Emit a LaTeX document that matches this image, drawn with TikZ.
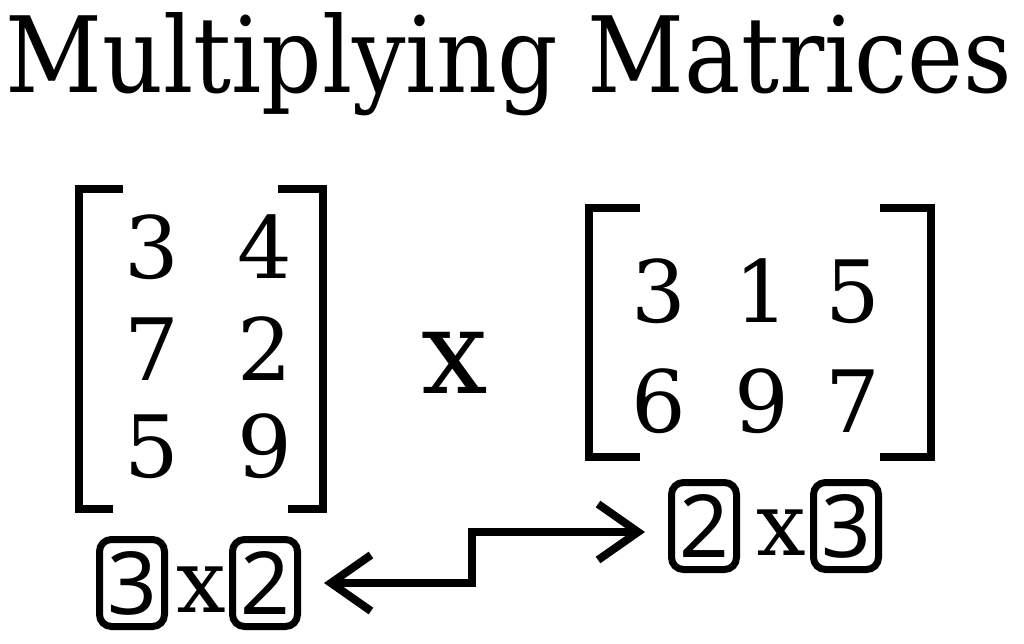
\documentclass[tikz,border=0pt]{standalone}
\usepackage{graphicx}
\usepackage{fontspec}
\setmainfont{DejaVu Serif}
\newfontfamily\boxfont{Noto Sans}
\usetikzlibrary{arrows.meta}

\begin{document}
\begin{tikzpicture}[x=1pt,y=-1pt,
	entry/.style={anchor=base,font=\fontsize{86}{90}\selectfont},
	times/.style={anchor=base,font=\fontsize{88}{90}\selectfont},
	dimbox/.style={draw,line width=7pt,rounded corners=12pt,minimum width=65pt,minimum height=87pt,inner sep=0pt,font=\boxfont\fontsize{87}{90}\selectfont},
	brak/.style={line width=8pt},
	link/.style={line width=8pt,{Straight Barb[length=40pt,width=56pt]}-{Straight Barb[length=40pt,width=56pt]}}]
	\useasboundingbox (0,0) rectangle (1024,643);
	\node[anchor=base west,inner sep=0pt,font=\fontsize{101}{110}\selectfont] (title) at (5,92) {\resizebox{1007pt}{80pt}{Multiplying Matrices}};
	% 3x2 matrix
	\draw[brak] (123,189)--(79,189)--(79,509)--(113,509);
	\draw[brak] (278,189)--(323,189)--(323,509)--(288,509);
	\foreach \n/\px/\py/\v in {a11/152/278/3,a12/265/278/4,a21/152/380/7,a22/265/380/2,a31/152/477/5,a32/265/477/9}
		\node[entry] (\n) at (\px,\py) {\v};
	\node[anchor=base,font=\fontsize{118}{120}\selectfont] (mul) at (455,393) {x};
	% 2x3 matrix
	\draw[brak] (640,208)--(589,208)--(589,457)--(640,457);
	\draw[brak] (880,208)--(931,208)--(931,457)--(880,457);
	\foreach \n/\px/\py/\v in {b11/659/322/3,b12/762/322/1,b13/853/322/5,b21/659/432/6,b22/762/432/9,b23/853/432/7}
		\node[entry] (\n) at (\px,\py) {\v};
	% sizes
	\node[dimbox] (lrow) at (132,583) {3};
	\node[times] (lx) at (201,612) {x};
	\node[dimbox] (lcol) at (265,583) {2};
	\node[dimbox] (rrow) at (704,526) {2};
	\node[times] (rx) at (781,555) {x};
	\node[dimbox] (rcol) at (846,526) {3};
	\coordinate (kink) at (472,557);
	\draw[link] ([xshift=23pt]lcol.east) -| (kink) |- ([xshift=-23pt,yshift=-6pt]rrow.west);
\end{tikzpicture}
\end{document}
